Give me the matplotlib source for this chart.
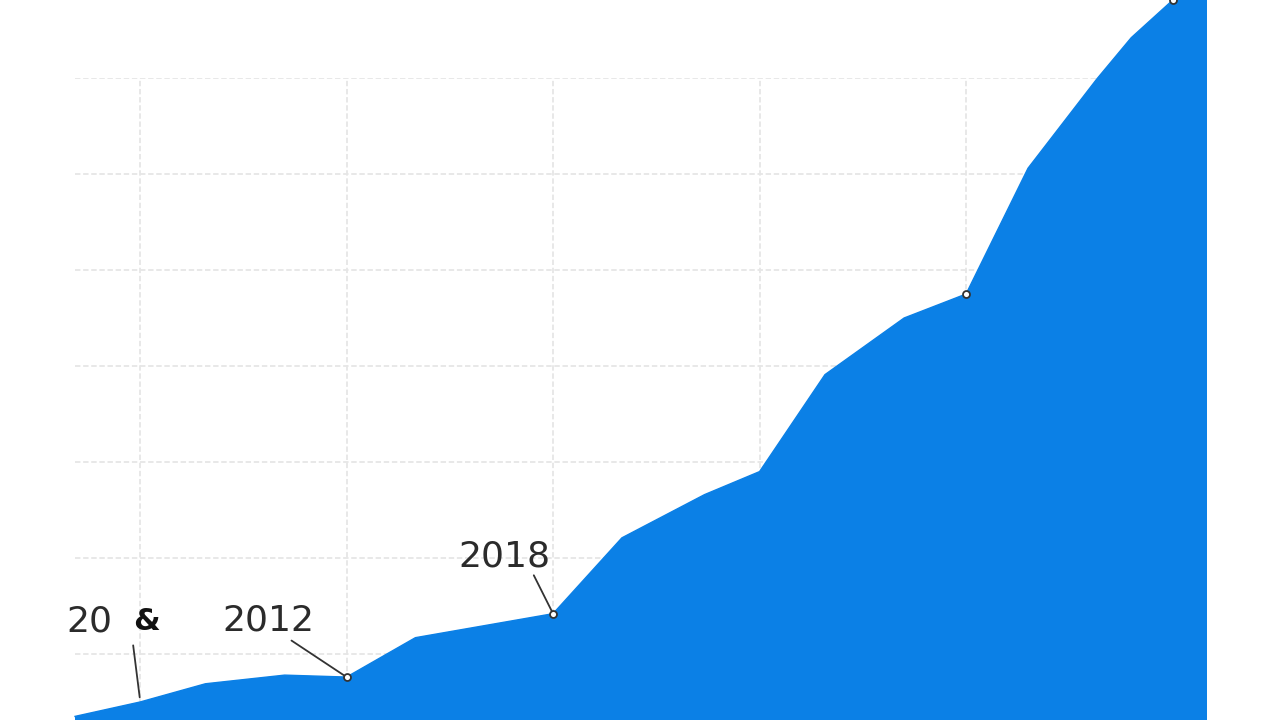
import matplotlib
matplotlib.use("Agg")
import matplotlib.pyplot as plt

plt.rcParams['font.family'] = ['DejaVu Sans']

# data (x in years, y in arbitrary units)
years = [2008.055, 2009.0, 2009.95, 2011.1, 2012.0, 2013.0, 2014.2, 2015.0, 2016.0,
         2017.2, 2018.0, 2018.95, 2020.1, 2021.0, 2021.9, 2022.9, 2023.4, 2024.0, 2024.5]
values = [35, 50, 69, 78, 76, 117, 132, 142, 221,
          266, 290, 391, 450, 475, 606, 699, 742, 781, 800]

marker_years = [2012.0, 2015.0, 2021.0, 2024.0]
marker_values = [76, 142, 475, 781]

# leader lines: target point, line start
leaders = [
    ((2009.0, 52), (2008.9, 109)),
    ((2012.0, 76), (2011.2, 114)),
    ((2015.0, 142), (2014.72, 182)),
]
# labels: text, position, weight, size
labels = [
    ('20', (2008.26, 134), 'normal', 26),
    ('&', (2009.1, 134), 'bold', 22),
    ('2012', (2010.86, 135), 'normal', 26),
    ('2018', (2014.29, 202), 'normal', 26),
]

blue = '#0b80e6'

fig = plt.figure(figsize=(12.8, 7.2), dpi=100)
ax = fig.add_axes([75 / 1280, 0, 1132 / 1280, 642 / 720])
ax.set_xlim(2008.055, 2024.5)
ax.set_ylim(31.25, 700)

ax.fill_between(years, 0, values, color=blue, linewidth=0, clip_on=False, zorder=2)
ax.plot(years, values, color=blue, linewidth=1, clip_on=False, zorder=2)
ax.plot(marker_years, marker_values, 'o', markersize=5, markerfacecolor='white',
        markeredgecolor='#333333', markeredgewidth=1.3, clip_on=False, zorder=4)

for xy, start in leaders:
    ax.annotate('', xy=xy, xytext=start,
                arrowprops=dict(arrowstyle='-', color='#333333', lw=1.3,
                                shrinkA=0, shrinkB=2),
                zorder=5, annotation_clip=False)

for text, pos, weight, size in labels:
    ax.text(pos[0], pos[1], text, fontsize=size,
            color='#2b2b2b' if weight == 'normal' else '#111111',
            fontweight=weight, ha='center', va='center', zorder=5)

ax.set_xticks([2009, 2012, 2015, 2018, 2021])
ax.set_yticks([100, 200, 300, 400, 500, 600, 700])
ax.grid(True, color='#e6e6e6', linestyle=(0, (3, 1.5)), linewidth=1.3, zorder=0)
ax.set_axisbelow(True)
ax.tick_params(length=0, labelbottom=False, labelleft=False)
for s in ax.spines.values():
    s.set_visible(False)

fig.savefig('out.png', dpi=100)
